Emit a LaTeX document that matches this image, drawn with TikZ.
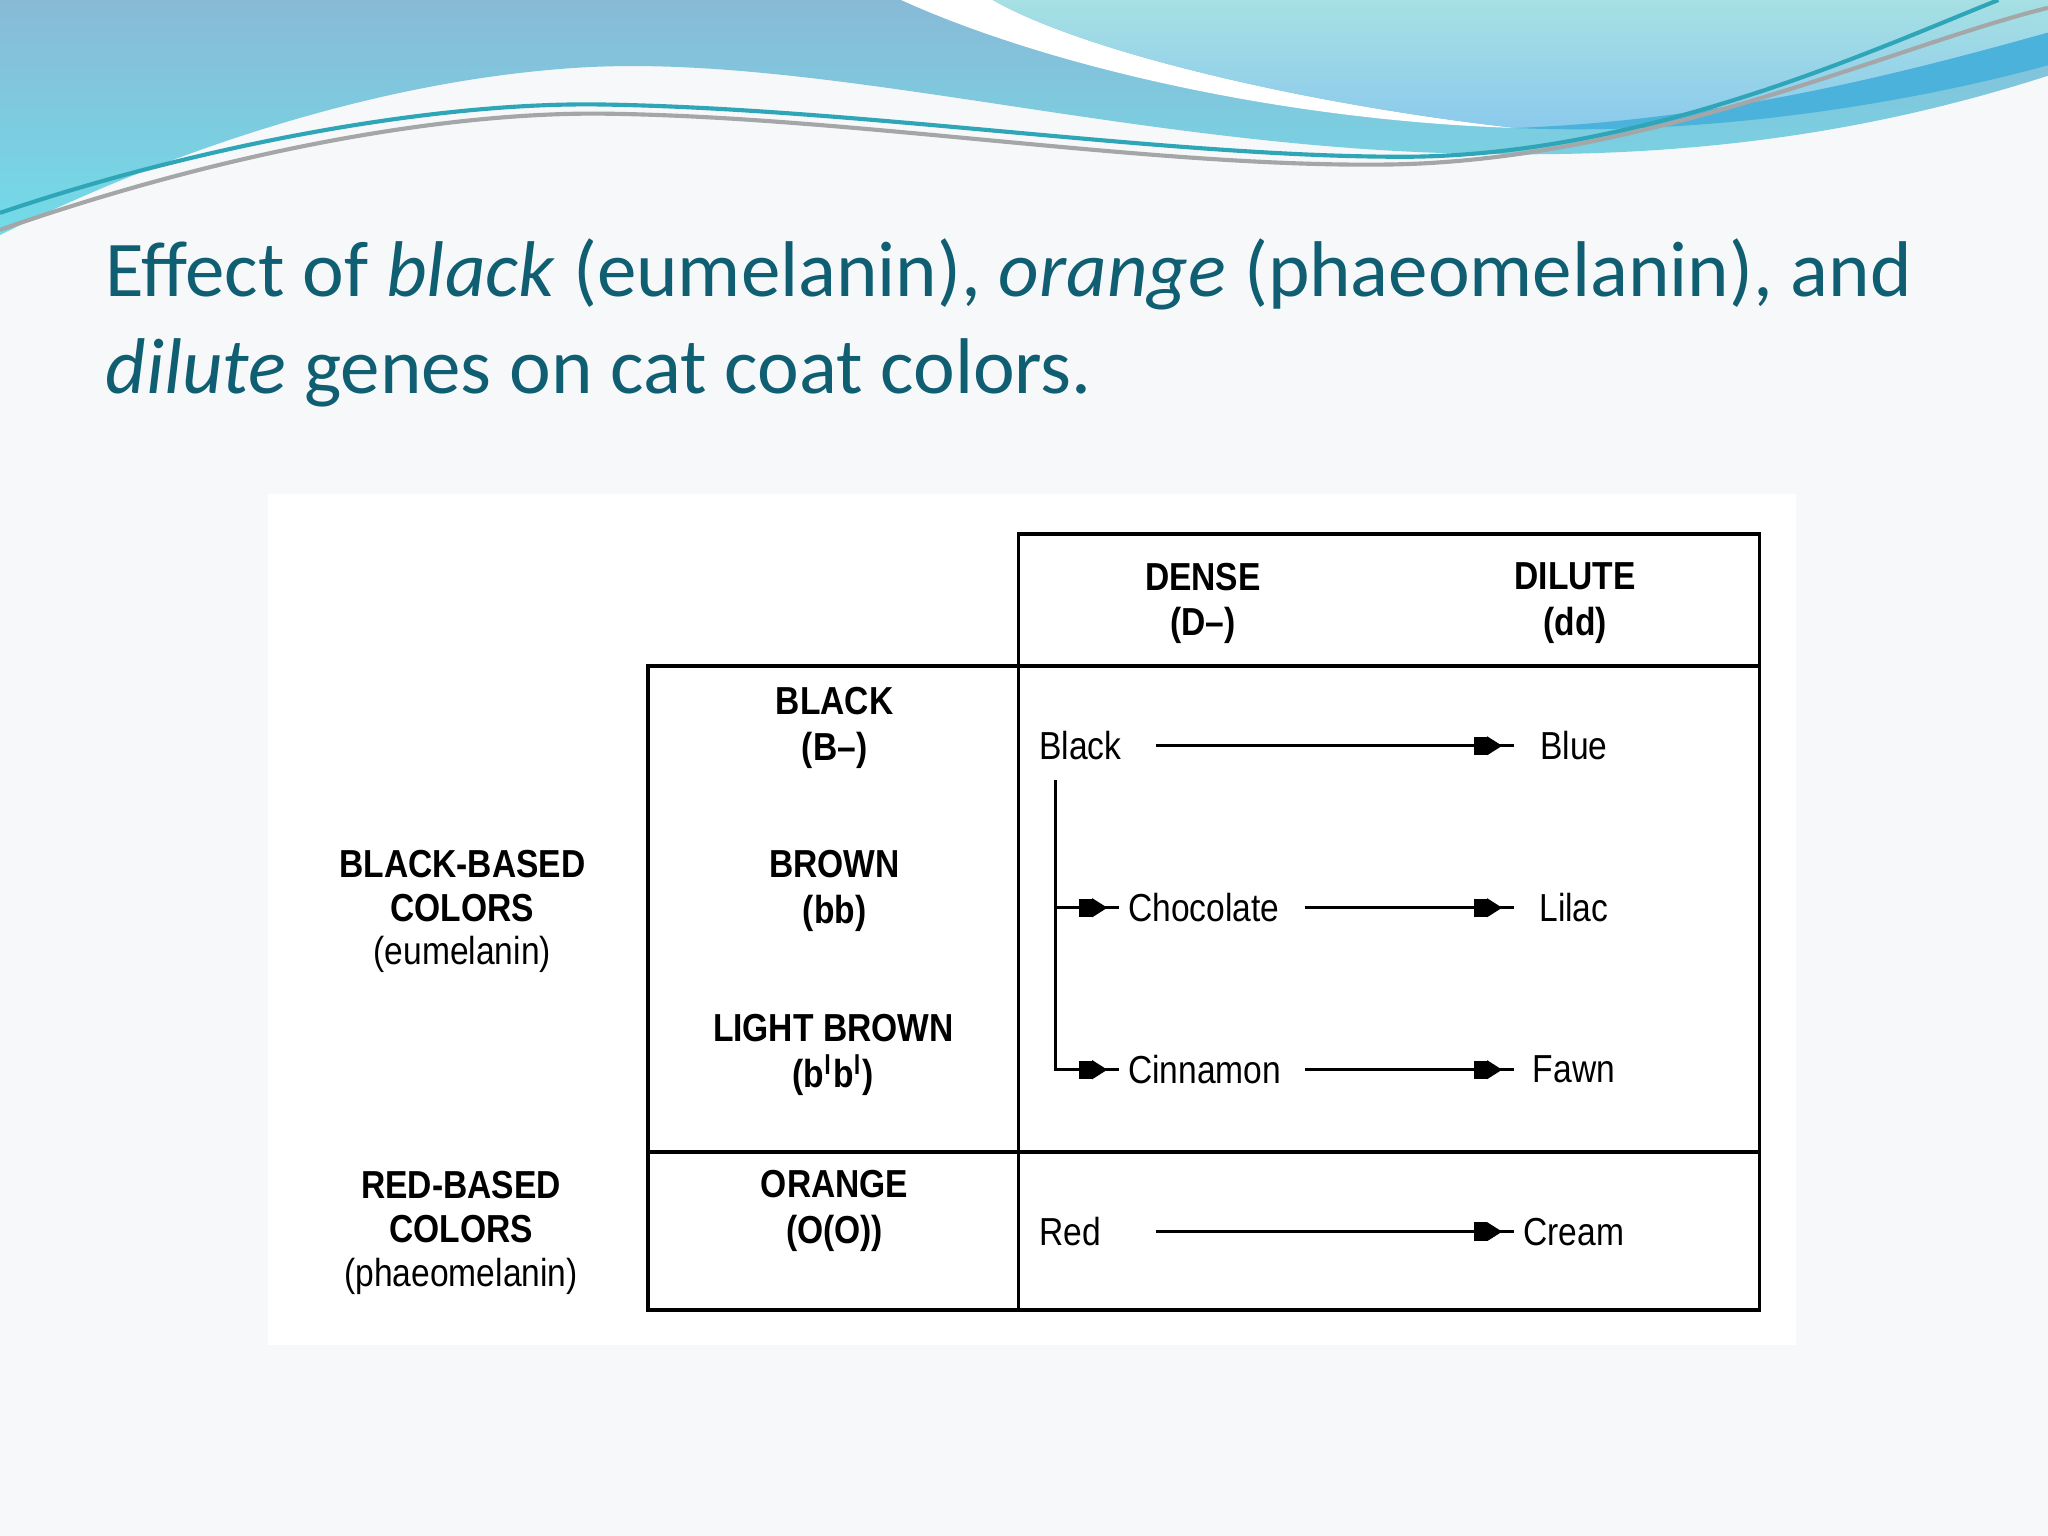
\documentclass[tikz,border=0pt]{standalone}
\usepackage{fontspec}
\setmainfont{Carlito}
\newfontfamily\tabfont[FakeStretch=0.86]{Liberation Sans}
\usepackage{tikz}
\usetikzlibrary{arrows.meta}
\usetikzlibrary{calc}
\definecolor{titleteal}{HTML}{0F5E72}
\definecolor{slidebg}{HTML}{F7F8F9}
\definecolor{waveblue}{HTML}{88BAD6}
\definecolor{wavecyan}{HTML}{72DCE8}
\definecolor{wavepale}{HTML}{A6E0E4}
\definecolor{wavesky}{HTML}{8CCAEC}
\definecolor{wavedeep}{HTML}{4BB2DC}
\definecolor{lineteal}{HTML}{2FA6B8}
\definecolor{linegray}{HTML}{A4A6A8}

\begin{document}
\begin{tikzpicture}[
    x=0.01cm, y=-0.01cm,
    table line/.style={line width=0.75pt},
    coat arrow/.style={line width=0.6pt, -{Rectangle[length=2.8pt,width=4pt]Triangle[length=3.3pt,width=4pt]Rectangle[length=2.6pt,width=0.6pt,line width=0pt]}},
    gene label/.style={font=\tabfont\bfseries\fontsize{8.5}{10}\selectfont, align=center, inner sep=0pt},
    group label/.style={font=\tabfont\bfseries\fontsize{8.5}{9.5}\selectfont, align=center, inner sep=0pt},
    coat label/.style={font=\tabfont\fontsize{8.5}{10}\selectfont, inner sep=0.06cm},
    dilute label/.style={coat label, inner sep=0pt, minimum width=0.9cm},
    every node/.style={color=black}
    ]
    \useasboundingbox (0,0) rectangle (1568,1176);

    % slide background
    \fill[slidebg] (0,0) rectangle (1568,1176);
    \fill[white] (205,378) rectangle (1375,1030);
    % waves
    \shade[top color=waveblue, bottom color=wavecyan] (0,0) -- (1568,0) -- (1568,58) .. controls (1400,112) and (1250,122) .. (1100,117) .. controls (850,108) and (620,40) .. (440,52) .. controls (260,64) and (90,135) .. (0,180) -- cycle;
    \fill[white] (690,0) .. controls (800,50) and (980,92) .. (1160,98) .. controls (1000,80) and (830,40) .. (760,0) -- cycle;
    \shade[top color=wavepale, bottom color=wavesky] (760,0) .. controls (830,40) and (1000,80) .. (1160,98) .. controls (1320,92) and (1460,55) .. (1568,25) -- (1568,0) -- cycle;
    \fill[wavedeep] (1160,98) .. controls (1320,92) and (1460,55) .. (1568,25) -- (1568,50) .. controls (1450,82) and (1300,104) .. (1160,98) -- cycle;
    \draw[linegray, line width=0.9pt] (0,176) .. controls (160,120) and (330,86) .. (460,87) .. controls (650,89) and (880,128) .. (1060,126) .. controls (1260,124) and (1450,35) .. (1568,6);
    \draw[lineteal, line width=0.9pt] (0,163) .. controls (150,112) and (330,78) .. (460,80) .. controls (660,83) and (900,121) .. (1080,120) .. controls (1260,118) and (1430,40) .. (1530,0);

    % title
    \node[anchor=base west, align=left, inner sep=0pt, text=titleteal, font=\fontsize{17.2}{21}\selectfont] (title) at (80,301)
        {Effect of \textit{black} (eumelanin), \textit{orange} (phaeomelanin), and\\\textit{dilute} genes on cat coat colors.};

    % table frame
    \draw[table line] (780,409) rectangle (1347,510);
    \draw[table line] (496,510) rectangle (1347,1003);
    \draw[table line] (780,510) -- (780,1003);
    \draw[table line] (496,882) -- (1347,882);

    % headers and genes
    \node[gene label] (dense) at (921,462) {DENSE\\(D–)};
    \node[gene label] (dilute) at (1206,462) {DILUTE\\(dd)};
    \node[gene label] (blackgene) at (639,557) {BLACK\\(B–)};
    \node[gene label] (browngene) at (639,682) {BROWN\\(bb)};
    \node[gene label] (lightbrowngene) at (638,808) {LIGHT BROWN\\(b\textsuperscript{l}b\textsuperscript{l})};
    \node[gene label] (orangegene) at (639,927) {ORANGE\\(O(O))};
    \node[group label] (blackbased) at (354,698) {BLACK-BASED\\COLORS\\{\mdseries (eumelanin)}};
    \node[group label] (redbased) at (353,944) {RED-BASED\\COLORS\\{\mdseries (phaeomelanin)}};

    % coat colors
    \node[coat label, anchor=west] (black) at (789,571) {Black};
    \node[dilute label] (blue) at (1205,571) {Blue};
    \node[coat label, anchor=west] (chocolate) at (857,695) {Chocolate};
    \node[dilute label] (lilac) at (1205,695) {Lilac};
    \node[coat label, anchor=west] (cinnamon) at (857,819) {Cinnamon};
    \node[dilute label] (fawn) at (1205,819) {Fawn};
    \node[coat label, anchor=west] (red) at (789,943) {Red};
    \node[dilute label] (cream) at (1205,943) {Cream};

    % arrows
    \coordinate (densestart) at (885,0);
    \coordinate (chocstart) at (999,0);
    \coordinate (branch) at (808,597);
    \draw[coat arrow] (black.east -| densestart) -- (blue);
    \draw[coat arrow] (chocolate.east -| chocstart) -- (lilac);
    \draw[coat arrow] (cinnamon.east -| chocstart) -- (fawn);
    \draw[coat arrow] (red.east -| densestart) -- (cream);
    \draw[coat arrow] (branch |- chocolate) -- (chocolate);
    \draw[coat arrow] (branch) |- (cinnamon);
\end{tikzpicture}
\end{document}
